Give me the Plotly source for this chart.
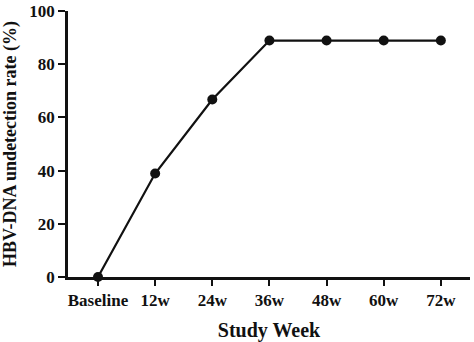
import plotly.graph_objects as go

categories = ["Baseline", "12w", "24w", "36w", "48w", "60w", "72w"]
rates = [0.0, 38.9, 66.7, 88.9, 88.9, 88.9, 88.9]
y_ticks = [0, 20, 40, 60, 80, 100]

font_family = "Liberation Serif, Times New Roman, serif"

fig = go.Figure()
fig.add_trace(go.Scatter(
    x=list(range(len(categories))),
    y=rates,
    mode="lines+markers",
    line=dict(color="#111111", width=2.2),
    marker=dict(color="#111111", size=10),
    cliponaxis=False,
    showlegend=False,
))

fig.update_layout(
    width=474, height=342,
    margin=dict(l=68, r=4, t=11, b=65),
    paper_bgcolor="white", plot_bgcolor="white",
    font=dict(family=font_family, color="#111111"),
)
fig.update_xaxes(
    range=[-0.525, 6.51],
    tickmode="array",
    tickvals=list(range(len(categories))),
    ticktext=["<b>%s</b>" % c for c in categories],
    tickfont=dict(size=17, family=font_family, color="#111111"),
    showline=True, linecolor="#111111", linewidth=2.5,
    ticks="outside", ticklen=6, tickwidth=2, tickcolor="#111111",
    showgrid=False, zeroline=False, automargin=False,
    title=dict(text="<b>Study Week</b>", font=dict(size=20, family=font_family), standoff=15),
)
fig.update_yaxes(
    range=[0, 100],
    tickmode="array",
    tickvals=y_ticks,
    ticktext=["<b>%d</b>" % v for v in y_ticks],
    tickfont=dict(size=17, family=font_family, color="#111111"),
    showline=True, linecolor="#111111", linewidth=2.5,
    ticks="outside", ticklen=7, tickwidth=2, tickcolor="#111111",
    showgrid=False, zeroline=False, automargin=False,
    title=dict(text="<b>HBV-DNA undetection rate (%)</b>", font=dict(size=18, family=font_family), standoff=9),
)

fig.write_html("out.html")
